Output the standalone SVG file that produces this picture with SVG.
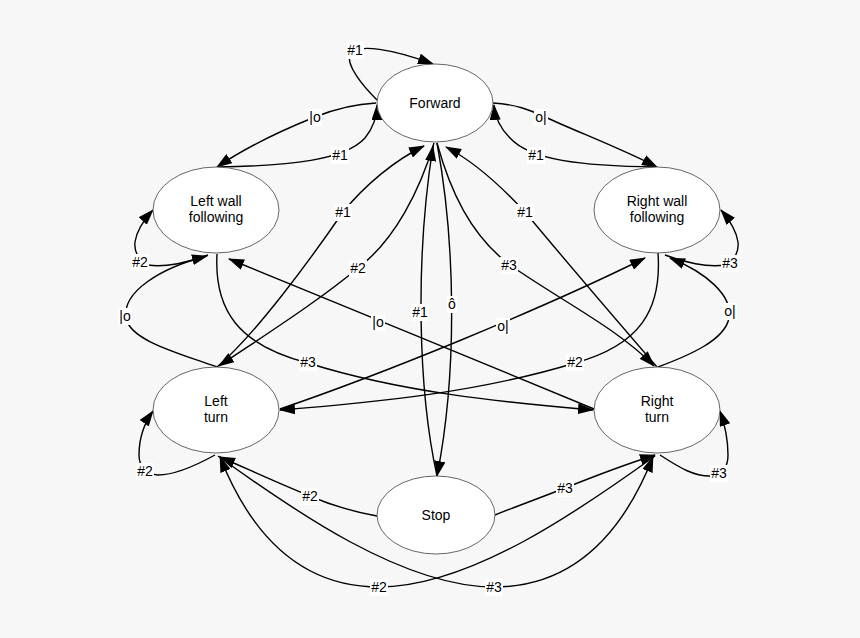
<svg xmlns="http://www.w3.org/2000/svg" width="860" height="638" viewBox="0 0 860 638">
<style>
.e{fill:none;stroke:#000;stroke-width:1.4;marker-end:url(#arr)}
.t{fill:none;stroke:#000;stroke-width:1.4}
.n{fill:#fff;stroke:#555;stroke-width:0.9}
.nt{font-family:"Liberation Sans",Arial,sans-serif;font-size:14px;fill:#000;text-anchor:middle}
.lb{fill:#fff}
.lt{font-family:"Liberation Sans",Arial,sans-serif;font-size:14px;fill:#000;text-anchor:middle}
</style>
<defs>
<marker id="arr" viewBox="0 0 16 11" refX="15" refY="5.5" markerWidth="16" markerHeight="11" markerUnits="userSpaceOnUse" orient="auto">
<path d="M0,0 L16,5.5 L0,11 z" fill="#000"/>
</marker>
</defs>
<rect width="860" height="638" fill="#f7f7f7"/>
<g id="connectors">
<path class="e" d="M377,100 C 362,85 346,65 350,55 C 356,42 395,50 433,64"/>
<path class="e" d="M376,103 C 355,104 335,109 315,117 C 280,131 245,148 217,167"/>
<path class="e" d="M217,167 C 290,166 345,160 365,138 C 373,128 377,118 377,105"/>
<path class="e" d="M493,103 C 515,104 530,110 545,117 C 580,133 620,148 657,167"/>
<path class="e" d="M657,167 C 580,166 530,160 510,138 C 500,128 495,118 494,105"/>
<path class="e" d="M208,255 C 190,262 165,268 148,265 C 138,262 134,250 135,242 C 136,235 140,224 153,210"/>
<path class="e" d="M217,367 C 175,352 130,340 126,318 C 122,292 160,268 207,256"/>
<path class="e" d="M217,254 C 214,310 238,345 308,363 C 400,392 500,402 593,410"/>
<path class="e" d="M594,409 C 500,370 320,296 229,259"/>
<path class="e" d="M280,409 C 380,375 540,310 645,258"/>
<path class="e" d="M658,253 C 662,310 640,345 575,363 C 480,392 380,402 280,410"/>
<path class="e" d="M665,255 C 683,262 708,268 725,265 C 735,262 739,250 738,242 C 737,235 733,224 721,210"/>
<path class="e" d="M658,367 C 690,355 725,340 729,318 C 733,295 705,272 670,258"/>
<path class="e" d="M215,455 C 195,466 175,475 158,475 C 145,474 139,465 139,455 C 139,440 143,425 153,411"/>
<path class="e" d="M660,455 C 680,468 695,477 712,476 C 724,475 728,465 728,455 C 728,440 725,425 720,411"/>
<path class="e" d="M377,516 C 355,512 335,507 310,496 C 280,484 250,470 220,457"/>
<path class="e" d="M495,515 C 520,505 545,496 565,488 C 600,474 630,463 655,455"/>
<path class="e" d="M655,456 C 580,510 470,587 379,587 C 290,587 245,520 220,457"/>
<path class="e" d="M218,456 C 293,510 403,587 494,587 C 583,587 628,520 653,457"/>
<path class="e" d="M434,143 C 420,190 395,240 358,268 C 320,300 265,335 219,366"/>
<path class="e" d="M217,367 C 255,335 310,260 343,212 C 365,185 395,160 424,146"/>
<path class="e" d="M437,143 C 450,190 470,235 510,265 C 560,300 620,330 654,366"/>
<path class="e" d="M657,367 C 625,330 565,260 525,212 C 500,185 475,162 446,147"/>
<path class="e" d="M437,476 C 418,390 415,260 433,146"/>
<path class="e" d="M437,143 C 455,240 458,370 437,476"/>
</g>
<g id="edge-labels">
<rect class="lb" x="346" y="42" width="18" height="17"/><text class="lt" x="355" y="55">#1</text>
<rect class="lb" x="308" y="109" width="14" height="17"/><text class="lt" x="315" y="122">|o</text>
<rect class="lb" x="331" y="147" width="18" height="17"/><text class="lt" x="340" y="160">#1</text>
<rect class="lb" x="534" y="109" width="14" height="17"/><text class="lt" x="541" y="122">o|</text>
<rect class="lb" x="527" y="147" width="18" height="17"/><text class="lt" x="536" y="160">#1</text>
<rect class="lb" x="334" y="204" width="18" height="17"/><text class="lt" x="343" y="217">#1</text>
<rect class="lb" x="516" y="204" width="18" height="17"/><text class="lt" x="525" y="217">#1</text>
<rect class="lb" x="131" y="254" width="18" height="17"/><text class="lt" x="140" y="267">#2</text>
<rect class="lb" x="721" y="255" width="18" height="17"/><text class="lt" x="730" y="268">#3</text>
<rect class="lb" x="349" y="260" width="18" height="17"/><text class="lt" x="358" y="273">#2</text>
<rect class="lb" x="500" y="257" width="18" height="17"/><text class="lt" x="509" y="270">#3</text>
<rect class="lb" x="447" y="296" width="10" height="17"/><text class="lt" x="452" y="309">ô</text>
<rect class="lb" x="411" y="304" width="18" height="17"/><text class="lt" x="420" y="317">#1</text>
<rect class="lb" x="118" y="308" width="14" height="17"/><text class="lt" x="125" y="321">|o</text>
<rect class="lb" x="371" y="314" width="14" height="17"/><text class="lt" x="378" y="327">|o</text>
<rect class="lb" x="496" y="318" width="14" height="17"/><text class="lt" x="503" y="331">o|</text>
<rect class="lb" x="723" y="303" width="14" height="17"/><text class="lt" x="730" y="316">o|</text>
<rect class="lb" x="299" y="354" width="18" height="17"/><text class="lt" x="308" y="367">#3</text>
<rect class="lb" x="566" y="354" width="18" height="17"/><text class="lt" x="575" y="367">#2</text>
<rect class="lb" x="136" y="463" width="18" height="17"/><text class="lt" x="145" y="476">#2</text>
<rect class="lb" x="710" y="465" width="18" height="17"/><text class="lt" x="719" y="478">#3</text>
<rect class="lb" x="301" y="488" width="18" height="17"/><text class="lt" x="310" y="501">#2</text>
<rect class="lb" x="556" y="480" width="18" height="17"/><text class="lt" x="565" y="493">#3</text>
<rect class="lb" x="370" y="579" width="18" height="17"/><text class="lt" x="379" y="592">#2</text>
<rect class="lb" x="485" y="579" width="18" height="17"/><text class="lt" x="494" y="592">#3</text>
</g>
<g id="node-forward"><ellipse class="n" cx="435" cy="103" rx="58" ry="39"/><text class="nt" x="435" y="108">Forward</text></g>
<g id="node-leftwall"><ellipse class="n" cx="216" cy="210" rx="63" ry="43"/><text class="nt" x="216" y="206">Left wall</text><text class="nt" x="216" y="222">following</text></g>
<g id="node-rightwall"><ellipse class="n" cx="657" cy="210" rx="63" ry="43"/><text class="nt" x="657" y="206">Right wall</text><text class="nt" x="657" y="222">following</text></g>
<g id="node-leftturn"><ellipse class="n" cx="216" cy="410" rx="63" ry="43"/><text class="nt" x="216" y="406">Left</text><text class="nt" x="216" y="422">turn</text></g>
<g id="node-rightturn"><ellipse class="n" cx="657" cy="410" rx="63" ry="43"/><text class="nt" x="657" y="406">Right</text><text class="nt" x="657" y="422">turn</text></g>
<g id="node-stop"><ellipse class="n" cx="436" cy="515" rx="59" ry="39"/><text class="nt" x="436" y="520">Stop</text></g>
</svg>
